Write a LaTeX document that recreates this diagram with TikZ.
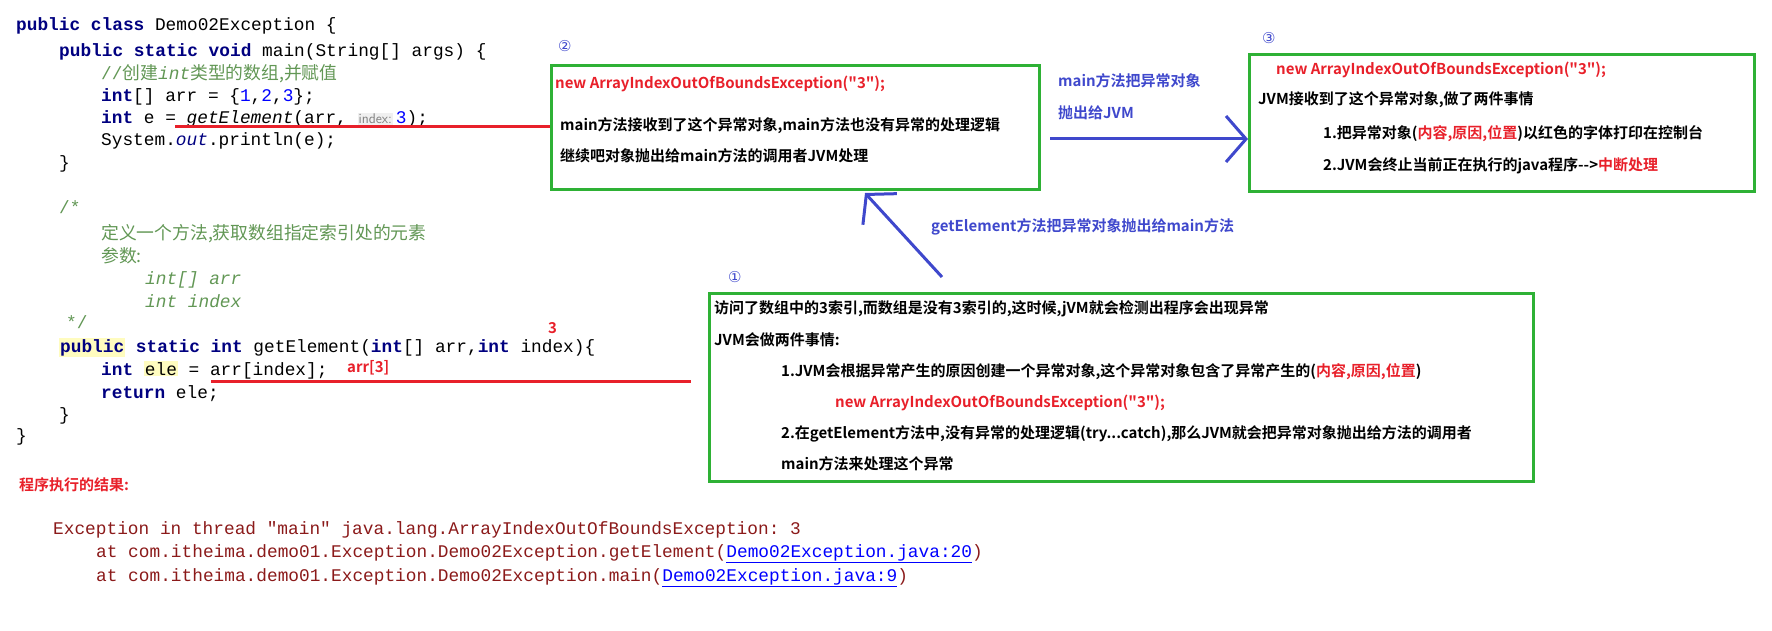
\documentclass[tikz,border=0pt]{standalone}
\usepackage{fontspec}
\setmonofont{Liberation Mono}
\newfontfamily\cjk{Noto Sans CJK SC}
\newfontfamily\cjkb{Noto Sans CJK SC Bold}
\usetikzlibrary{arrows.meta}
\definecolor{kw}{HTML}{000080}
\definecolor{cm}{HTML}{629755}
\definecolor{gbox}{HTML}{2EB135}
\definecolor{bl}{HTML}{3F48CC}
\definecolor{rd}{HTML}{E8202A}
\definecolor{exc}{HTML}{8B1A1A}
\setlength{\fboxsep}{1pt}
\tikzset{
  code/.style={anchor=base west,inner sep=0pt,font=\fontsize{17.8}{20}\ttfamily},
  btxt/.style={anchor=base west,inner sep=0pt,font=\fontsize{15}{16}\cjkb},
  box/.style={draw=gbox,line width=3pt,anchor=north west,inner sep=0pt},
  redline/.style={draw=rd,line width=3pt},
  barrow/.style={draw=bl,line width=3pt,-{Straight Barb[length=20pt,width=46pt,line width=3pt]}},
  num/.style={anchor=base west,inner sep=0pt,text=bl,font=\fontsize{15}{16}\fontspec{DejaVu Sans}}
}
\newcommand{\kwd}[1]{\textcolor{kw}{\textbf{#1}}}
\begin{document}
\begin{tikzpicture}[x=1pt,y=-1pt]
\useasboundingbox (0,0) rectangle (1772,631);
% code
\node[code] (l1) at (16,31) {\kwd{public class} Demo02Exception \{};
\node[code] (l2) at (59,57) {\kwd{public static void} main(String[] args) \{};
\node[code,text=cm] (l3) at (101,80) {//{\cjk 创建}\textit{int}{\cjk 类型的数组,并赋值}};
\node[code] (l4) at (101,102) {\kwd{int}[] arr = \{\textcolor{blue}{1},\textcolor{blue}{2},\textcolor{blue}{3}\};};
\node[code] (l5) at (101,124) {\kwd{int} e = \textit{getElement}(arr, \colorbox{gray!12}{\textcolor{gray}{\fontsize{14}{16}\sffamily index:}}\,\textcolor{blue}{3});};
\node[code] (l6) at (101,146) {System.\textcolor{kw}{\textit{out}}.println(e);};
\node[code] (l7) at (59,169) {\}};
\node[code,text=cm] (l8) at (59,214) {/*};
\node[code,text=cm] (l9) at (101,240) {\cjk 定义一个方法,获取数组指定索引处的元素};
\node[code,text=cm] (l10) at (101,262) {\cjk 参数:};
\node[code,text=cm] (l11) at (145,284) {\textit{int[] arr}};
\node[code,text=cm] (l12) at (145,307) {\textit{int index}};
\node[code,text=cm] (l13) at (66,328) {*/};
\node[code] (l14) at (59,352) {\colorbox{yellow!25}{\kwd{public}} \kwd{static int} getElement(\kwd{int}[] arr,\kwd{int} index)\{};
\node[code] (l15) at (101,375) {\kwd{int} \colorbox{yellow!25}{ele} = arr[index];};
\node[code] (l16) at (101,398) {\kwd{return} ele;};
\node[code] (l17) at (59,420) {\}};
\node[code] (l18) at (16,441) {\}};
\node[anchor=base west,inner sep=0pt,text=rd,font=\fontsize{15}{16}\cjkb] (a3) at (347,372) {arr[3]};
\node[anchor=base west,inner sep=0pt,text=rd,font=\fontsize{15}{16}\cjkb] (r3) at (548,333) {3};
% result
\node[anchor=base west,inner sep=0pt,text=rd,font=\fontsize{15}{16}\cjkb] (res) at (19,490) {程序执行的结果:};
\node[code,text=exc] (e1) at (53,534) {Exception in thread "main" java.lang.ArrayIndexOutOfBoundsException: 3};
\node[code,text=exc] (e2) at (96,557) {at com.itheima.demo01.Exception.Demo02Exception.getElement(\textcolor{blue}{\underline{Demo02Exception.java:20}})};
\node[code,text=exc] (e3) at (96,581) {at com.itheima.demo01.Exception.Demo02Exception.main(\textcolor{blue}{\underline{Demo02Exception.java:9}})};
% boxes
\node[box,minimum width=488pt,minimum height=124pt] (b2) at (550,64) {};
\node[box,minimum width=505pt,minimum height=137pt] (b3) at (1248,53) {};
\node[box,minimum width=824pt,minimum height=188pt] (b1) at (708,292) {};
\node[num] (n2) at (558,52) {②};
\node[num] (n3) at (1262,44) {③};
\node[num] (n1) at (728,282) {①};
% box 2 text
\node[btxt,text=rd] (t21) at (555,89) {new ArrayIndexOutOfBoundsException("3");};
\node[btxt] (t22) at (560,131) {main方法接收到了这个异常对象,main方法也没有异常的处理逻辑};
\node[btxt] (t23) at (560,162) {继续吧对象抛出给main方法的调用者JVM处理};
% box 3 text
\node[btxt,text=rd] (t31) at (1276,75) {new ArrayIndexOutOfBoundsException("3");};
\node[btxt] (t32) at (1258,105) {JVM接收到了这个异常对象,做了两件事情};
\node[btxt] (t33) at (1323,139) {1.把异常对象(\textcolor{rd}{内容,原因,位置})以红色的字体打印在控制台};
\node[btxt] (t34) at (1323,171) {2.JVM会终止当前正在执行的java程序-->\textcolor{rd}{中断处理}};
% box 1 text
\node[btxt] (t11) at (714,313) {访问了数组中的3索引,而数组是没有3索引的,这时候,jVM就会检测出程序会出现异常};
\node[btxt] (t12) at (714,345) {JVM会做两件事情:};
\node[btxt] (t13) at (781,376) {1.JVM会根据异常产生的原因创建一个异常对象,这个异常对象包含了异常产生的(\textcolor{rd}{内容,原因,位置})};
\node[btxt,text=rd] (t14) at (835,407) {new ArrayIndexOutOfBoundsException("3");};
\node[btxt] (t15) at (781,438) {2.在getElement方法中,没有异常的处理逻辑(try...catch),那么JVM就会把异常对象抛出给方法的调用者};
\node[btxt] (t16) at (781,469) {main方法来处理这个异常};
% labels
\node[btxt,text=bl] (lab1) at (1058,87) {main方法把异常对象};
\node[btxt,text=bl] (lab2) at (1058,119) {抛出给JVM};
\node[btxt,text=bl] (lab3) at (931,232) {getElement方法把异常对象抛出给main方法};
% connectors
\coordinate (c1) at (175,127);
\coordinate (c2) at (211,381);
\coordinate (c2e) at (691,381);
\draw[redline] (c1) -- (c1 -| b2.west);
\draw[redline] (c2) -- (c2e);
\coordinate (h1) at (1050,139);
\draw[barrow] (h1) -- (h1 -| b3.west);
\coordinate (d1) at (942,277);
\coordinate (d2) at (865,193);
\draw[barrow] (d1) -- (d2);
\end{tikzpicture}
\end{document}
